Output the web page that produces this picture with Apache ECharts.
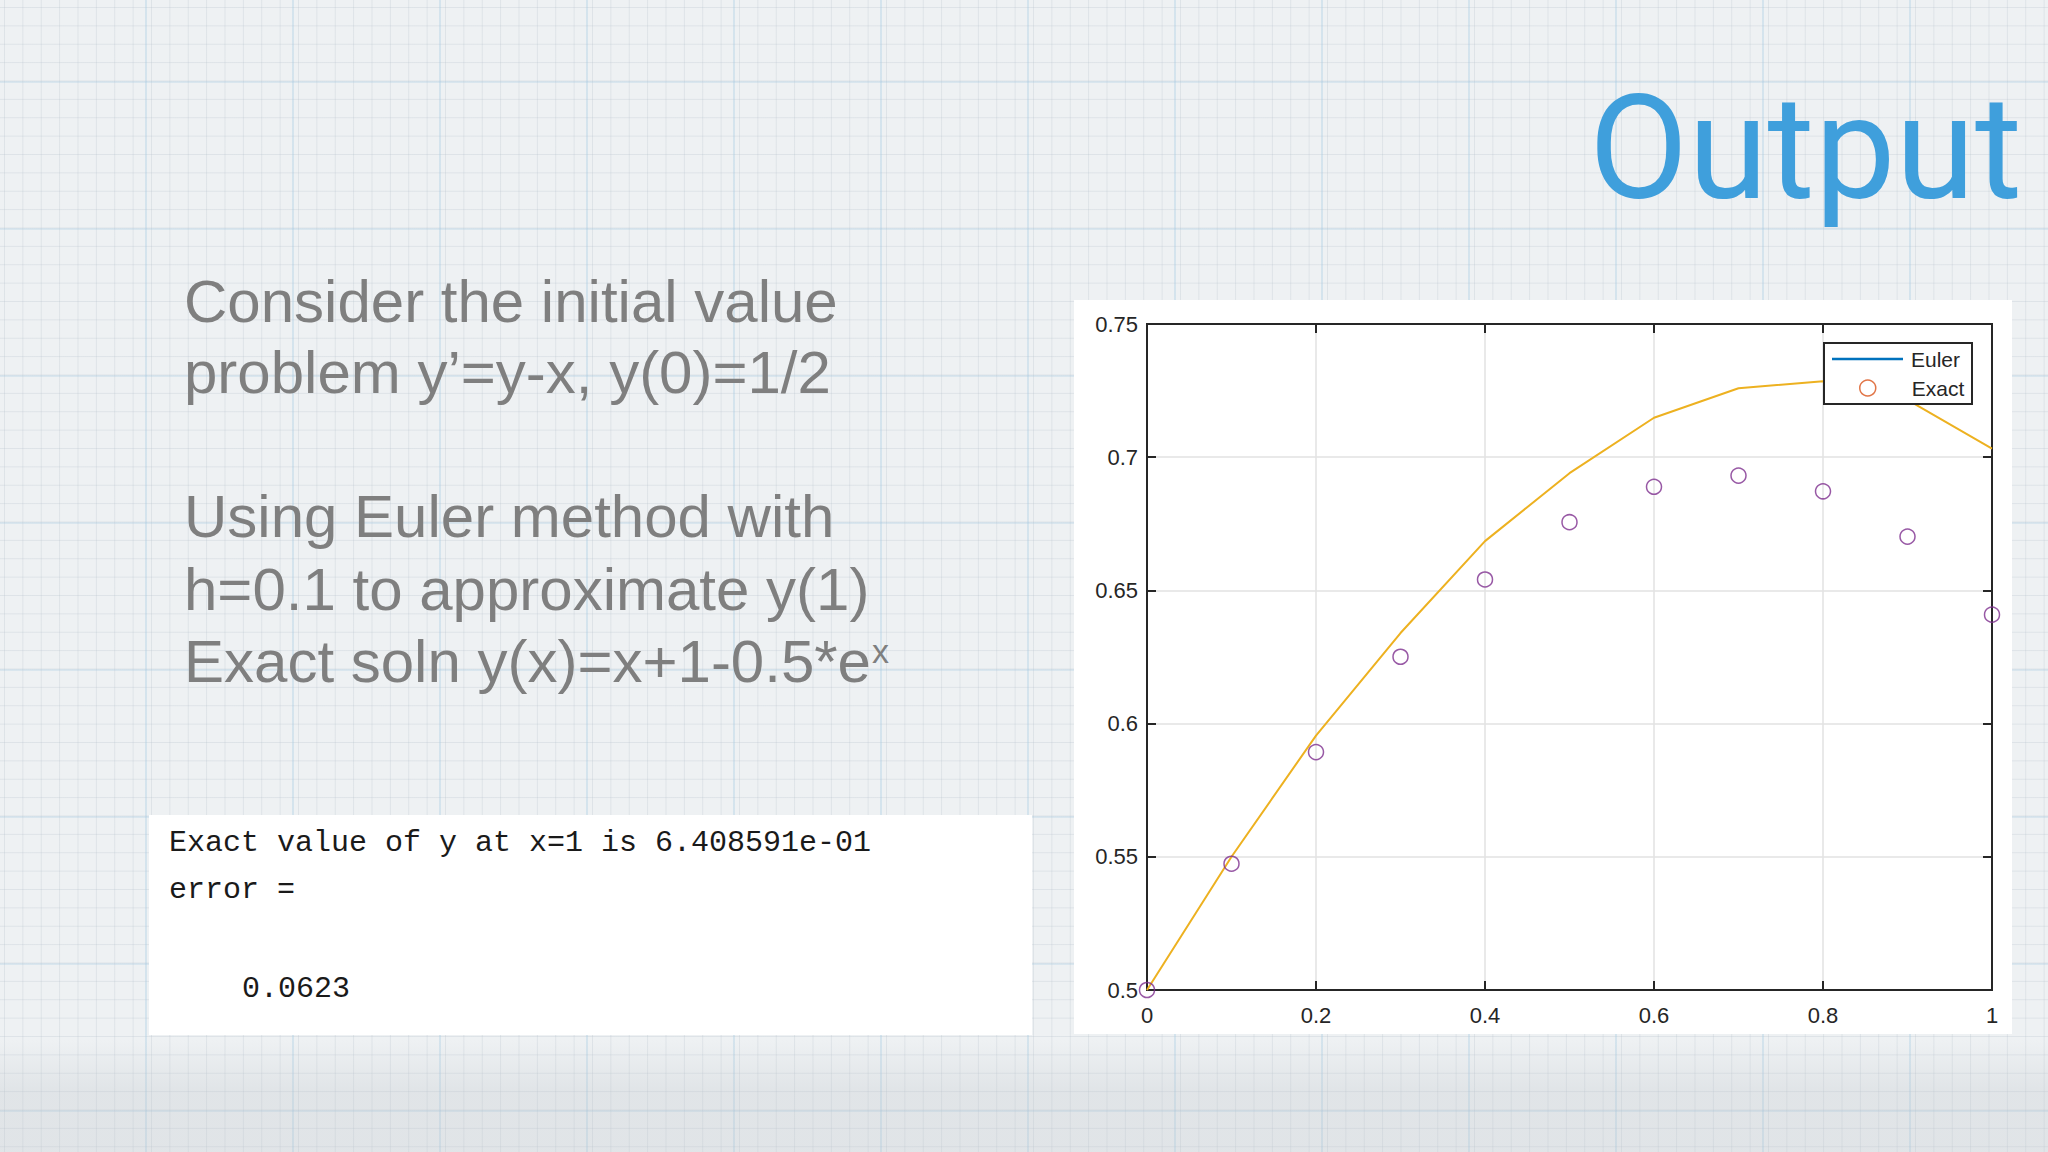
<!DOCTYPE html>
<html>
<head>
<meta charset="utf-8">
<script src="https://cdn.jsdelivr.net/npm/echarts@6/dist/echarts.min.js"></script>
<style>
html, body { margin:0; padding:0; width:2048px; height:1152px; overflow:hidden; }
body {
  background-color:#eef1f3;
  background-image:
    linear-gradient(to bottom, rgba(255,255,255,0) 0px, rgba(255,255,255,0) 1040px, rgba(190,196,202,0.28) 1090px, rgba(190,196,202,0.28) 1152px),
    linear-gradient(to right, rgba(160,198,224,0.32) 2px, transparent 2px),
    linear-gradient(to bottom, rgba(160,198,224,0.26) 2px, transparent 2px),
    linear-gradient(to right, rgba(170,182,194,0.24) 1px, transparent 1px),
    linear-gradient(to bottom, rgba(170,182,194,0.24) 1px, transparent 1px);
  background-size: 2048px 1152px, 147px 147px, 147px 147px, 18.375px 18.375px, 18.375px 18.375px;
  background-position: 0 0, 145px 0, 0 81px, 4px 0, 0 7px;
}
#chart { width:2048px; height:1152px; }
</style>
</head>
<body>
<div id="chart"></div>
<script>
// ---- data ----
const xValues     = [0, 0.1, 0.2, 0.3, 0.4, 0.5, 0.6, 0.7, 0.8, 0.9, 1.0];
const eulerValues = [0.5, 0.55, 0.5955, 0.634, 0.6685, 0.694, 0.7148, 0.7259, 0.7285, 0.7215, 0.7032];
const exactValues = [0.5, 0.5474, 0.5893, 0.6251, 0.6541, 0.6756, 0.6889, 0.6931, 0.6872, 0.6702, 0.6409];
const seriesNames = ['Euler', 'Exact'];
const slideTitle  = 'Output';
const slideLines  = [
  'Consider the initial value',
  'problem y\u2019=y-x, y(0)=1/2',
  'Using Euler method with',
  'h=0.1 to approximate y(1)'
];
const slideLastLine = 'Exact soln y(x)=x+1-0.5*e';
const slideLastSup  = 'x';
const consoleLines  = ['Exact value of y at x=1 is 6.408591e-01', 'error =', '0.0623'];

// ---- build ----
const eulerData = xValues.map((x, i) => [x, eulerValues[i]]);
const exactData = xValues.map((x, i) => [x, exactValues[i]]);

const SANS = '"Liberation Sans", Arial, Helvetica, sans-serif';
const MONO = '"Liberation Mono", "DejaVu Sans Mono", monospace';
const axisColor = '#262626';

const chart = echarts.init(document.getElementById('chart'), null, {renderer:'svg', width:2048, height:1152});

const lineBaselines = [322, 393, 537, 610];
const textFS = 60;
const midOff = 0.3465 * textFS;

const graphics = [
  { type:'rect', z:-100, shape:{x:1074, y:300, width:938, height:734}, style:{fill:'#ffffff'} },
  { type:'rect', z:-100, shape:{x:149, y:815, width:883, height:220}, style:{fill:'#ffffff'} },
  // legend frame
  { type:'rect', z:5, shape:{x:1824, y:343, width:148, height:61}, style:{fill:'#ffffff', stroke:axisColor, lineWidth:2} },
  { type:'text', x:2022, y:148, style:{ text:slideTitle, fill:'#3f9fdc', font:'144px Roboto, "Open Sans", sans-serif', align:'right', verticalAlign:'middle' } }
];
slideLines.forEach((t, i) => {
  graphics.push({ type:'text', x:184, y:lineBaselines[i] - midOff,
    style:{ text:t, fill:'#7f7f7f', font: textFS + 'px ' + SANS, align:'left', verticalAlign:'middle' } });
});
graphics.push({ type:'text', x:184, y:682 - midOff,
  style:{ text:'{m|' + slideLastLine + '}{s|' + slideLastSup + '}', align:'left', verticalAlign:'middle',
    rich:{ m:{ fontSize:textFS, fontFamily:SANS, fill:'#7f7f7f', color:'#7f7f7f' },
           s:{ fontSize:34, fontFamily:SANS, fill:'#7f7f7f', color:'#7f7f7f', padding:[0,0,20,1] } } } });
const consoleY = [851, 898, 997];
const consoleX = [169, 169, 242];
consoleLines.forEach((t, i) => {
  graphics.push({ type:'text', x:consoleX[i], y:consoleY[i] - 8,
    style:{ text:t, fill:'#1a1a1a', font:'30px ' + MONO, align:'left', verticalAlign:'middle' } });
});

const tickStyle = { show:true, inside:true, length:9, lineStyle:{ color:axisColor, width:2 } };
const baseX = {
  type:'value', min:0, max:1, interval:0.2,
  axisLine:{ show:true, onZero:false, lineStyle:{ color:axisColor, width:2 } },
  axisTick: tickStyle
};
const baseY = {
  type:'value', min:0.5, max:0.75, interval:0.05,
  axisLine:{ show:true, onZero:false, lineStyle:{ color:axisColor, width:2 } },
  axisTick: tickStyle
};

const legendCommon = {
  orient:'vertical', align:'left', padding:0, selectedMode:false, z:6,
  backgroundColor:'transparent', borderWidth:0
};

chart.setOption({
  animation:false,
  backgroundColor:'transparent',
  graphic: graphics,
  grid:{ left:1147, top:324, width:845, height:666, show:true, backgroundColor:'#ffffff', borderColor:axisColor, borderWidth:2 },
  xAxis:[
    Object.assign({}, baseX, { position:'bottom',
      axisLabel:{ show:true, fontSize:22, color:axisColor, fontFamily:SANS, margin:14 },
      splitLine:{ show:true, lineStyle:{ color:'#e2e2e2', width:1.5 } } }),
    Object.assign({}, baseX, { position:'top', axisLabel:{ show:false }, splitLine:{ show:false } })
  ],
  yAxis:[
    Object.assign({}, baseY, { position:'left',
      axisLabel:{ show:true, fontSize:22, color:axisColor, fontFamily:SANS, margin:9 },
      splitLine:{ show:true, lineStyle:{ color:'#e2e2e2', width:1.5 } } }),
    Object.assign({}, baseY, { position:'right', axisLabel:{ show:false }, splitLine:{ show:false } })
  ],
  legend:[
    Object.assign({}, legendCommon, { left:1832, top:348.5, itemWidth:71, itemHeight:2.5,
      textStyle:{ fontSize:21, color:axisColor, fontFamily:SANS, padding:[0,0,0,3] },
      data:[{ name:seriesNames[0], icon:'rect', itemStyle:{ color:'#0072BD', borderWidth:0 } }] }),
    Object.assign({}, legendCommon, { left:1859, top:377.5, itemWidth:16, itemHeight:16,
      textStyle:{ fontSize:21, color:axisColor, fontFamily:SANS, padding:[0,0,0,31] },
      data:[{ name:seriesNames[1], icon:'circle', itemStyle:{ color:'rgba(0,0,0,0)', borderColor:'#D95319', borderWidth:1.5 } }] })
  ],
  series:[
    { name:seriesNames[0], type:'line', data:eulerData, symbol:'none', z:3,
      lineStyle:{ color:'#EDB120', width:2 }, itemStyle:{ color:'#EDB120' } },
    { name:seriesNames[1], type:'scatter', data:exactData, symbol:'circle', symbolSize:15, clip:false, z:4,
      itemStyle:{ color:'rgba(0,0,0,0)', borderColor:'#7E2F8E', borderWidth:1.5 } }
  ]
});
</script>
</body>
</html>
